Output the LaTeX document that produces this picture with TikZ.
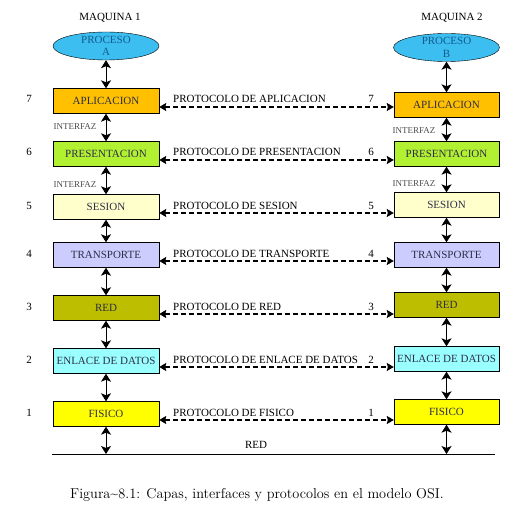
\documentclass[tikz,border=0pt]{standalone}
\usepackage{fontspec}
\newfontfamily\tms{Liberation Serif}
\usetikzlibrary{arrows.meta,shapes.geometric}

\definecolor{procfill}{RGB}{60,190,240}
\definecolor{proctext}{RGB}{20,90,140}
\definecolor{boxtext}{RGB}{45,45,70}
\definecolor{aplfill}{RGB}{255,192,0}
\definecolor{prsfill}{RGB}{178,240,50}
\definecolor{sesfill}{RGB}{255,255,204}
\definecolor{trpfill}{RGB}{204,204,255}
\definecolor{redfill}{RGB}{190,190,0}
\definecolor{enlfill}{RGB}{153,255,255}
\definecolor{fisfill}{RGB}{255,255,0}

\begin{document}
\begin{tikzpicture}[
  x=1pt, y=-1pt,
  proc/.style    = {ellipse, draw, thin, fill=procfill, text=proctext, inner sep=0pt,
                    minimum width=106pt, minimum height=28pt, align=center,
                    font=\tms\fontsize{11}{12.5}\selectfont},
  layer/.style   = {draw, thin, inner sep=0pt, minimum width=106pt, minimum height=25pt,
                    text=boxtext, font=\tms\fontsize{11}{13}\selectfont},
  lbl/.style     = {inner sep=0pt, font=\tms\fontsize{11}{13}\selectfont},
  ifz/.style     = {inner sep=0pt, text=black!70, font=\tms\fontsize{9}{11}\selectfont},
  varrow/.style  = {line width=1pt, {Stealth[length=8pt,width=10pt,inset=2pt]}-{Stealth[length=8pt,width=10pt,inset=2pt]}},
  parrow/.style  = {line width=1.5pt, dash pattern=on 5pt off 3pt,
                    {Stealth[length=7pt,width=8pt,inset=1pt]}-{Stealth[length=7pt,width=8pt,inset=1pt]}},
]
  \useasboundingbox (0,0) rectangle (529,521);

  % the two machines
  \node[lbl] (m1) at (110,18) {MAQUINA 1};
  \node[lbl] (m2) at (452,18) {MAQUINA 2};
  \node[proc] (pa) at (106,46) {PROCESO\\A};
  \node[proc] (pb) at (446.5,47.5) {PROCESO\\B};

  % the seven layers, left and right stacks
  \foreach \n/\name/\col/\yl/\yr in {7/APLICACION/aplfill/101/105,
                                    6/PRESENTACION/prsfill/154/154,
                                    5/SESION/sesfill/207/205,
                                    4/TRANSPORTE/trpfill/255/255,
                                    3/RED/redfill/308/305,
                                    2/ENLACE DE DATOS/enlfill/361/359,
                                    1/FISICO/fisfill/414/412} {
    \node[layer, fill=\col] (la\n) at (106,\yl) {\name};
    \node[layer, fill=\col, minimum width=105pt] (ra\n) at (446.5,\yr) {\name};
    \node[lbl, anchor=base] (nl\n) at (29,\yl+2) {\n};
    \node[lbl, anchor=base] (nr\n) at (371,\yl+2) {\n};
    \node[lbl, anchor=base west] (pr\n) at (173,\yl+2) {PROTOCOLO DE \name};
    \draw[parrow] ([yshift=-6pt]la\n.east) -- ([yshift=-6pt]la\n.east -| ra\n.west);
  }

  % vertical interfaces
  \draw[varrow] (pa.south) -- (la7.north);
  \draw[varrow] (pb.south) -- (ra7.north);
  \foreach \a/\b in {7/6,6/5,5/4,4/3,3/2,2/1} {
    \draw[varrow] (la\a.south) -- (la\b.north);
    \draw[varrow] (ra\a.south) -- (ra\b.north);
  }

  \node[ifz] (il1) at (75,127) {INTERFAZ};
  \node[ifz] (il2) at (75,185) {INTERFAZ};
  \node[ifz] (ir1) at (414,131) {INTERFAZ};
  \node[ifz] (ir2) at (414,184) {INTERFAZ};

  % the physical medium
  \coordinate (redL) at (52,454);
  \coordinate (redR) at (495,454);
  \draw[thin] (redL) -- (redR);
  \node[lbl] (red) at (256,445) {RED};
  \draw[varrow] (la1.south) -- (la1.south |- redL);
  \draw[varrow] (ra1.south) -- (ra1.south |- redR);

  \node[inner sep=0pt, font=\fontsize{14.3}{16}\selectfont] (cap) at (257,495)
    {Figura\~{}8.1: Capas, interfaces y protocolos en el modelo OSI.};
\end{tikzpicture}
\end{document}
